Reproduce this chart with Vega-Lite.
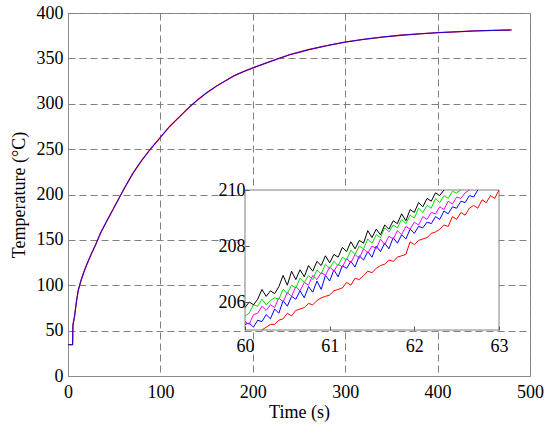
{
  "$schema": "https://vega.github.io/schema/vega-lite/v6.json",
  "width": 462,
  "height": 363,
  "autosize": "none",
  "padding": {"left": 68, "top": 13, "right": 20, "bottom": 52},
  "background": "white",
  "config": {
    "font": "Liberation Serif",
    "view": {"stroke": "#8c8c8c"},
    "axis": {
      "labelFont": "Liberation Serif",
      "titleFont": "Liberation Serif",
      "labelFontSize": 18,
      "titleFontSize": 18,
      "titleFontWeight": "normal",
      "labelColor": "#000000",
      "titleColor": "#000000",
      "domainColor": "#8c8c8c",
      "tickColor": "#555555",
      "gridColor": "#7f7f7f",
      "gridDash": [7, 4],
      "gridOpacity": 1,
      "labelFlush": false
    }
  },
  "datasets": {
    "curve": [
      {"t": 0, "v": 34.5}, {"t": 5, "v": 34.5}, {"t": 5.3, "v": 56}, {"t": 7, "v": 65},
      {"t": 9, "v": 81}, {"t": 11, "v": 94}, {"t": 14, "v": 105}, {"t": 17, "v": 114},
      {"t": 20, "v": 122}, {"t": 25, "v": 134}, {"t": 30, "v": 145}, {"t": 35, "v": 157},
      {"t": 40, "v": 167}, {"t": 50, "v": 186}, {"t": 60, "v": 205}, {"t": 70, "v": 223},
      {"t": 80, "v": 238}, {"t": 90, "v": 251}, {"t": 100, "v": 263}, {"t": 110, "v": 275},
      {"t": 120, "v": 285}, {"t": 130, "v": 295}, {"t": 140, "v": 304}, {"t": 150, "v": 312},
      {"t": 160, "v": 319}, {"t": 170, "v": 325}, {"t": 180, "v": 331}, {"t": 190, "v": 335.5},
      {"t": 200, "v": 339.5}, {"t": 220, "v": 347}, {"t": 240, "v": 354}, {"t": 260, "v": 359.5},
      {"t": 280, "v": 364}, {"t": 300, "v": 368}, {"t": 320, "v": 371}, {"t": 340, "v": 373.5},
      {"t": 360, "v": 375.5}, {"t": 380, "v": 377}, {"t": 400, "v": 378.3}, {"t": 420, "v": 379.3},
      {"t": 440, "v": 380.2}, {"t": 460, "v": 380.8}, {"t": 480, "v": 381.3}
    ],
    "frame": [{"t": 60, "t2": 63, "v": 205, "v2": 210}],
    "zoom": [
      {"s": "red", "t": 60.2, "v": 205.0}, {"s": "red", "t": 60.25, "v": 205.1}, {"s": "red", "t": 60.3, "v": 205.2},
      {"s": "red", "t": 60.35, "v": 205.2}, {"s": "red", "t": 60.4, "v": 205.35}, {"s": "red", "t": 60.45, "v": 205.4},
      {"s": "red", "t": 60.5, "v": 205.6}, {"s": "red", "t": 60.55, "v": 205.5}, {"s": "red", "t": 60.6, "v": 205.7},
      {"s": "red", "t": 60.65, "v": 205.75}, {"s": "red", "t": 60.7, "v": 205.8}, {"s": "red", "t": 60.75, "v": 205.95},
      {"s": "red", "t": 60.8, "v": 205.9}, {"s": "red", "t": 60.85, "v": 206.05}, {"s": "red", "t": 60.9, "v": 206.15},
      {"s": "red", "t": 60.95, "v": 206.2}, {"s": "red", "t": 61.0, "v": 206.25}, {"s": "red", "t": 61.05, "v": 206.4},
      {"s": "red", "t": 61.1, "v": 206.45}, {"s": "red", "t": 61.15, "v": 206.5}, {"s": "red", "t": 61.2, "v": 206.7},
      {"s": "red", "t": 61.25, "v": 206.6}, {"s": "red", "t": 61.3, "v": 206.85}, {"s": "red", "t": 61.35, "v": 206.8},
      {"s": "red", "t": 61.4, "v": 206.95}, {"s": "red", "t": 61.45, "v": 207.1}, {"s": "red", "t": 61.5, "v": 207.05},
      {"s": "red", "t": 61.55, "v": 207.2}, {"s": "red", "t": 61.6, "v": 207.3}, {"s": "red", "t": 61.65, "v": 207.35},
      {"s": "red", "t": 61.7, "v": 207.5}, {"s": "red", "t": 61.75, "v": 207.45}, {"s": "red", "t": 61.8, "v": 207.6},
      {"s": "red", "t": 61.85, "v": 207.65}, {"s": "red", "t": 61.9, "v": 207.7}, {"s": "red", "t": 61.95, "v": 208.15},
      {"s": "red", "t": 62.0, "v": 208.05}, {"s": "red", "t": 62.05, "v": 208.2}, {"s": "red", "t": 62.1, "v": 208.25},
      {"s": "red", "t": 62.15, "v": 208.3}, {"s": "red", "t": 62.2, "v": 208.45}, {"s": "red", "t": 62.25, "v": 208.5},
      {"s": "red", "t": 62.3, "v": 208.6}, {"s": "red", "t": 62.35, "v": 208.75}, {"s": "red", "t": 62.4, "v": 208.7},
      {"s": "red", "t": 62.45, "v": 209.05}, {"s": "red", "t": 62.5, "v": 208.95}, {"s": "red", "t": 62.55, "v": 209.2},
      {"s": "red", "t": 62.6, "v": 209.1}, {"s": "red", "t": 62.65, "v": 209.35}, {"s": "red", "t": 62.7, "v": 209.45},
      {"s": "red", "t": 62.75, "v": 209.35}, {"s": "red", "t": 62.8, "v": 209.65}, {"s": "red", "t": 62.85, "v": 209.55},
      {"s": "red", "t": 62.9, "v": 209.8}, {"s": "red", "t": 62.95, "v": 209.7}, {"s": "red", "t": 63.0, "v": 210.0},

      {"s": "blue", "t": 60.0, "v": 205.2}, {"s": "blue", "t": 60.05, "v": 205.25}, {"s": "blue", "t": 60.1, "v": 205.1},
      {"s": "blue", "t": 60.15, "v": 205.35}, {"s": "blue", "t": 60.2, "v": 205.3}, {"s": "blue", "t": 60.25, "v": 205.55},
      {"s": "blue", "t": 60.3, "v": 205.4}, {"s": "blue", "t": 60.35, "v": 205.75}, {"s": "blue", "t": 60.4, "v": 205.6},
      {"s": "blue", "t": 60.45, "v": 206.05}, {"s": "blue", "t": 60.5, "v": 205.85}, {"s": "blue", "t": 60.55, "v": 206.2},
      {"s": "blue", "t": 60.6, "v": 206.1}, {"s": "blue", "t": 60.65, "v": 206.4}, {"s": "blue", "t": 60.7, "v": 206.15},
      {"s": "blue", "t": 60.75, "v": 206.55}, {"s": "blue", "t": 60.8, "v": 206.35}, {"s": "blue", "t": 60.85, "v": 206.75},
      {"s": "blue", "t": 60.9, "v": 206.45}, {"s": "blue", "t": 60.95, "v": 206.95}, {"s": "blue", "t": 61.0, "v": 206.75},
      {"s": "blue", "t": 61.05, "v": 207.15}, {"s": "blue", "t": 61.1, "v": 206.9}, {"s": "blue", "t": 61.15, "v": 207.3},
      {"s": "blue", "t": 61.2, "v": 207.2}, {"s": "blue", "t": 61.25, "v": 207.45}, {"s": "blue", "t": 61.3, "v": 207.25},
      {"s": "blue", "t": 61.35, "v": 207.65}, {"s": "blue", "t": 61.4, "v": 207.5}, {"s": "blue", "t": 61.45, "v": 207.8},
      {"s": "blue", "t": 61.5, "v": 207.6}, {"s": "blue", "t": 61.55, "v": 208.0}, {"s": "blue", "t": 61.6, "v": 207.8},
      {"s": "blue", "t": 61.65, "v": 208.1}, {"s": "blue", "t": 61.7, "v": 207.9}, {"s": "blue", "t": 61.75, "v": 208.3},
      {"s": "blue", "t": 61.8, "v": 208.1}, {"s": "blue", "t": 61.85, "v": 208.4}, {"s": "blue", "t": 61.9, "v": 208.25},
      {"s": "blue", "t": 61.95, "v": 208.6}, {"s": "blue", "t": 62.0, "v": 208.45}, {"s": "blue", "t": 62.05, "v": 208.7},
      {"s": "blue", "t": 62.1, "v": 208.65}, {"s": "blue", "t": 62.15, "v": 208.85}, {"s": "blue", "t": 62.2, "v": 208.8},
      {"s": "blue", "t": 62.25, "v": 209.05}, {"s": "blue", "t": 62.3, "v": 208.95}, {"s": "blue", "t": 62.35, "v": 209.25},
      {"s": "blue", "t": 62.4, "v": 209.15}, {"s": "blue", "t": 62.45, "v": 209.4}, {"s": "blue", "t": 62.5, "v": 209.35},
      {"s": "blue", "t": 62.55, "v": 209.6}, {"s": "blue", "t": 62.6, "v": 209.55}, {"s": "blue", "t": 62.65, "v": 209.8},
      {"s": "blue", "t": 62.7, "v": 209.75}, {"s": "blue", "t": 62.75, "v": 210.0},

      {"s": "magenta", "t": 60.0, "v": 205.3}, {"s": "magenta", "t": 60.05, "v": 205.2}, {"s": "magenta", "t": 60.1, "v": 205.55},
      {"s": "magenta", "t": 60.15, "v": 205.6}, {"s": "magenta", "t": 60.2, "v": 205.85}, {"s": "magenta", "t": 60.25, "v": 205.7},
      {"s": "magenta", "t": 60.3, "v": 205.9}, {"s": "magenta", "t": 60.35, "v": 205.8}, {"s": "magenta", "t": 60.4, "v": 206.15},
      {"s": "magenta", "t": 60.45, "v": 206.0}, {"s": "magenta", "t": 60.5, "v": 206.35}, {"s": "magenta", "t": 60.55, "v": 206.2},
      {"s": "magenta", "t": 60.6, "v": 206.55}, {"s": "magenta", "t": 60.65, "v": 206.4}, {"s": "magenta", "t": 60.7, "v": 206.7},
      {"s": "magenta", "t": 60.75, "v": 206.6}, {"s": "magenta", "t": 60.8, "v": 206.95}, {"s": "magenta", "t": 60.85, "v": 206.8},
      {"s": "magenta", "t": 60.9, "v": 207.05}, {"s": "magenta", "t": 60.95, "v": 206.95}, {"s": "magenta", "t": 61.0, "v": 207.25},
      {"s": "magenta", "t": 61.05, "v": 207.1}, {"s": "magenta", "t": 61.1, "v": 207.35}, {"s": "magenta", "t": 61.15, "v": 207.25},
      {"s": "magenta", "t": 61.2, "v": 207.55}, {"s": "magenta", "t": 61.25, "v": 207.4}, {"s": "magenta", "t": 61.3, "v": 207.7},
      {"s": "magenta", "t": 61.35, "v": 207.55}, {"s": "magenta", "t": 61.4, "v": 207.9}, {"s": "magenta", "t": 61.45, "v": 207.75},
      {"s": "magenta", "t": 61.5, "v": 208.0}, {"s": "magenta", "t": 61.55, "v": 207.9}, {"s": "magenta", "t": 61.6, "v": 208.25},
      {"s": "magenta", "t": 61.65, "v": 208.05}, {"s": "magenta", "t": 61.7, "v": 208.35}, {"s": "magenta", "t": 61.75, "v": 208.25},
      {"s": "magenta", "t": 61.8, "v": 208.55}, {"s": "magenta", "t": 61.85, "v": 208.4}, {"s": "magenta", "t": 61.9, "v": 208.7},
      {"s": "magenta", "t": 61.95, "v": 208.6}, {"s": "magenta", "t": 62.0, "v": 208.85}, {"s": "magenta", "t": 62.05, "v": 208.75},
      {"s": "magenta", "t": 62.1, "v": 209.05}, {"s": "magenta", "t": 62.15, "v": 208.95}, {"s": "magenta", "t": 62.2, "v": 209.2},
      {"s": "magenta", "t": 62.25, "v": 209.15}, {"s": "magenta", "t": 62.3, "v": 209.4}, {"s": "magenta", "t": 62.35, "v": 209.3},
      {"s": "magenta", "t": 62.4, "v": 209.6}, {"s": "magenta", "t": 62.45, "v": 209.5}, {"s": "magenta", "t": 62.5, "v": 209.75},
      {"s": "magenta", "t": 62.55, "v": 209.7}, {"s": "magenta", "t": 62.6, "v": 209.9}, {"s": "magenta", "t": 62.65, "v": 210.0},

      {"s": "green", "t": 60.0, "v": 205.5}, {"s": "green", "t": 60.05, "v": 205.6}, {"s": "green", "t": 60.1, "v": 205.9},
      {"s": "green", "t": 60.15, "v": 205.85}, {"s": "green", "t": 60.2, "v": 206.1}, {"s": "green", "t": 60.25, "v": 205.9},
      {"s": "green", "t": 60.3, "v": 206.05}, {"s": "green", "t": 60.35, "v": 206.15}, {"s": "green", "t": 60.4, "v": 206.1},
      {"s": "green", "t": 60.45, "v": 206.45}, {"s": "green", "t": 60.5, "v": 206.3}, {"s": "green", "t": 60.55, "v": 206.6},
      {"s": "green", "t": 60.6, "v": 206.5}, {"s": "green", "t": 60.65, "v": 206.85}, {"s": "green", "t": 60.7, "v": 206.7},
      {"s": "green", "t": 60.75, "v": 206.95}, {"s": "green", "t": 60.8, "v": 206.8}, {"s": "green", "t": 60.85, "v": 207.15},
      {"s": "green", "t": 60.9, "v": 207.0}, {"s": "green", "t": 60.95, "v": 207.35}, {"s": "green", "t": 61.0, "v": 207.2},
      {"s": "green", "t": 61.05, "v": 207.45}, {"s": "green", "t": 61.1, "v": 207.3}, {"s": "green", "t": 61.15, "v": 207.6},
      {"s": "green", "t": 61.2, "v": 207.5}, {"s": "green", "t": 61.25, "v": 207.85}, {"s": "green", "t": 61.3, "v": 207.7},
      {"s": "green", "t": 61.35, "v": 208.0}, {"s": "green", "t": 61.4, "v": 207.9}, {"s": "green", "t": 61.45, "v": 208.25},
      {"s": "green", "t": 61.5, "v": 208.1}, {"s": "green", "t": 61.55, "v": 208.4}, {"s": "green", "t": 61.6, "v": 208.3},
      {"s": "green", "t": 61.65, "v": 208.65}, {"s": "green", "t": 61.7, "v": 208.5}, {"s": "green", "t": 61.75, "v": 208.75},
      {"s": "green", "t": 61.8, "v": 208.65}, {"s": "green", "t": 61.85, "v": 208.95}, {"s": "green", "t": 61.9, "v": 208.8},
      {"s": "green", "t": 61.95, "v": 209.1}, {"s": "green", "t": 62.0, "v": 209.0}, {"s": "green", "t": 62.05, "v": 209.35},
      {"s": "green", "t": 62.1, "v": 209.2}, {"s": "green", "t": 62.15, "v": 209.45}, {"s": "green", "t": 62.2, "v": 209.35},
      {"s": "green", "t": 62.25, "v": 209.7}, {"s": "green", "t": 62.3, "v": 209.55}, {"s": "green", "t": 62.35, "v": 209.8},
      {"s": "green", "t": 62.4, "v": 209.7}, {"s": "green", "t": 62.45, "v": 209.95}, {"s": "green", "t": 62.5, "v": 209.9},
      {"s": "green", "t": 62.55, "v": 210.0},

      {"s": "black", "t": 60.0, "v": 205.8}, {"s": "black", "t": 60.05, "v": 206.0}, {"s": "black", "t": 60.1, "v": 205.9},
      {"s": "black", "t": 60.15, "v": 206.1}, {"s": "black", "t": 60.2, "v": 206.45}, {"s": "black", "t": 60.25, "v": 206.2},
      {"s": "black", "t": 60.3, "v": 206.4}, {"s": "black", "t": 60.35, "v": 206.3}, {"s": "black", "t": 60.4, "v": 206.55},
      {"s": "black", "t": 60.45, "v": 206.95}, {"s": "black", "t": 60.5, "v": 206.6}, {"s": "black", "t": 60.55, "v": 207.1},
      {"s": "black", "t": 60.6, "v": 206.8}, {"s": "black", "t": 60.65, "v": 207.15}, {"s": "black", "t": 60.7, "v": 206.9},
      {"s": "black", "t": 60.75, "v": 207.3}, {"s": "black", "t": 60.8, "v": 207.1}, {"s": "black", "t": 60.85, "v": 207.45},
      {"s": "black", "t": 60.9, "v": 207.3}, {"s": "black", "t": 60.95, "v": 207.65}, {"s": "black", "t": 61.0, "v": 207.4},
      {"s": "black", "t": 61.05, "v": 207.7}, {"s": "black", "t": 61.1, "v": 207.6}, {"s": "black", "t": 61.15, "v": 207.95},
      {"s": "black", "t": 61.2, "v": 207.8}, {"s": "black", "t": 61.25, "v": 208.15}, {"s": "black", "t": 61.3, "v": 207.9},
      {"s": "black", "t": 61.35, "v": 208.2}, {"s": "black", "t": 61.4, "v": 208.1}, {"s": "black", "t": 61.45, "v": 208.55},
      {"s": "black", "t": 61.5, "v": 208.3}, {"s": "black", "t": 61.55, "v": 208.6}, {"s": "black", "t": 61.6, "v": 208.4},
      {"s": "black", "t": 61.65, "v": 208.75}, {"s": "black", "t": 61.7, "v": 208.6}, {"s": "black", "t": 61.75, "v": 208.9},
      {"s": "black", "t": 61.8, "v": 208.8}, {"s": "black", "t": 61.85, "v": 209.15}, {"s": "black", "t": 61.9, "v": 208.9},
      {"s": "black", "t": 61.95, "v": 209.3}, {"s": "black", "t": 62.0, "v": 209.2}, {"s": "black", "t": 62.05, "v": 209.55},
      {"s": "black", "t": 62.1, "v": 209.4}, {"s": "black", "t": 62.15, "v": 209.7}, {"s": "black", "t": 62.2, "v": 209.6},
      {"s": "black", "t": 62.25, "v": 209.9}, {"s": "black", "t": 62.3, "v": 209.8}, {"s": "black", "t": 62.35, "v": 210.0}
    ]
  },
  "layer": [
    {
      "data": {"name": "curve"},
      "encoding": {
        "x": {
          "field": "t",
          "type": "quantitative",
          "scale": {"domain": [0, 500], "nice": false},
          "axis": {
            "title": "Time (s)",
            "values": [0, 100, 200, 300, 400, 500],
            "grid": true,
            "ticks": false,
            "labelFont": "Liberation Serif",
            "labelPadding": 7,
            "titlePadding": 2
          }
        },
        "y": {
          "field": "v",
          "type": "quantitative",
          "scale": {"domain": [0, 400], "nice": false},
          "axis": {
            "title": "Temperature (°C)",
            "values": [0, 50, 100, 150, 200, 250, 300, 350, 400],
            "grid": true,
            "ticks": false,
            "labelFont": "Liberation Serif",
            "labelPadding": 5,
            "titlePadding": 8
          }
        }
      },
      "layer": [
        {"mark": {"type": "line", "color": "#ff0000", "strokeWidth": 1.3}},
        {"mark": {"type": "line", "color": "#0000ff", "strokeWidth": 0.9}}
      ]
    },
    {
      "encoding": {
        "x": {
          "field": "t",
          "type": "quantitative",
          "scale": {"domain": [60, 63], "range": [177, 431], "nice": false, "zero": false},
          "axis": {
            "title": null,
            "orient": "bottom",
            "offset": -46,
            "values": [60, 61, 62, 63],
            "grid": false,
            "domain": false,
            "tickSize": -4,
            "labelFont": "Liberation Serif",
            "labelPadding": 11,
            "zindex": 2
          }
        },
        "y": {
          "field": "v",
          "type": "quantitative",
          "scale": {"domain": [205, 210], "range": [317, 177], "nice": false, "zero": false},
          "axis": {
            "title": null,
            "orient": "left",
            "offset": -177,
            "values": [206, 208, 210],
            "grid": false,
            "domain": false,
            "tickSize": -4,
            "labelFont": "Liberation Serif",
            "labelPadding": 4,
            "zindex": 2
          }
        }
      },
      "layer": [
        {
          "data": {"name": "frame"},
          "mark": {"type": "rect", "fill": "white", "stroke": "#7f7f7f", "strokeWidth": 1},
          "encoding": {"x2": {"field": "t2"}, "y2": {"field": "v2"}}
        },
        {
          "data": {"name": "zoom"},
          "mark": {"type": "line", "strokeWidth": 1},
          "encoding": {
            "color": {
              "field": "s",
              "type": "nominal",
              "scale": {
                "domain": ["red", "blue", "magenta", "green", "black"],
                "range": ["#ff0000", "#0000ff", "#ff00ff", "#00e000", "#000000"]
              },
              "legend": null
            }
          }
        }
      ]
    }
  ],
  "resolve": {
    "scale": {"x": "independent", "y": "independent"},
    "axis": {"x": "independent", "y": "independent"}
  }
}
